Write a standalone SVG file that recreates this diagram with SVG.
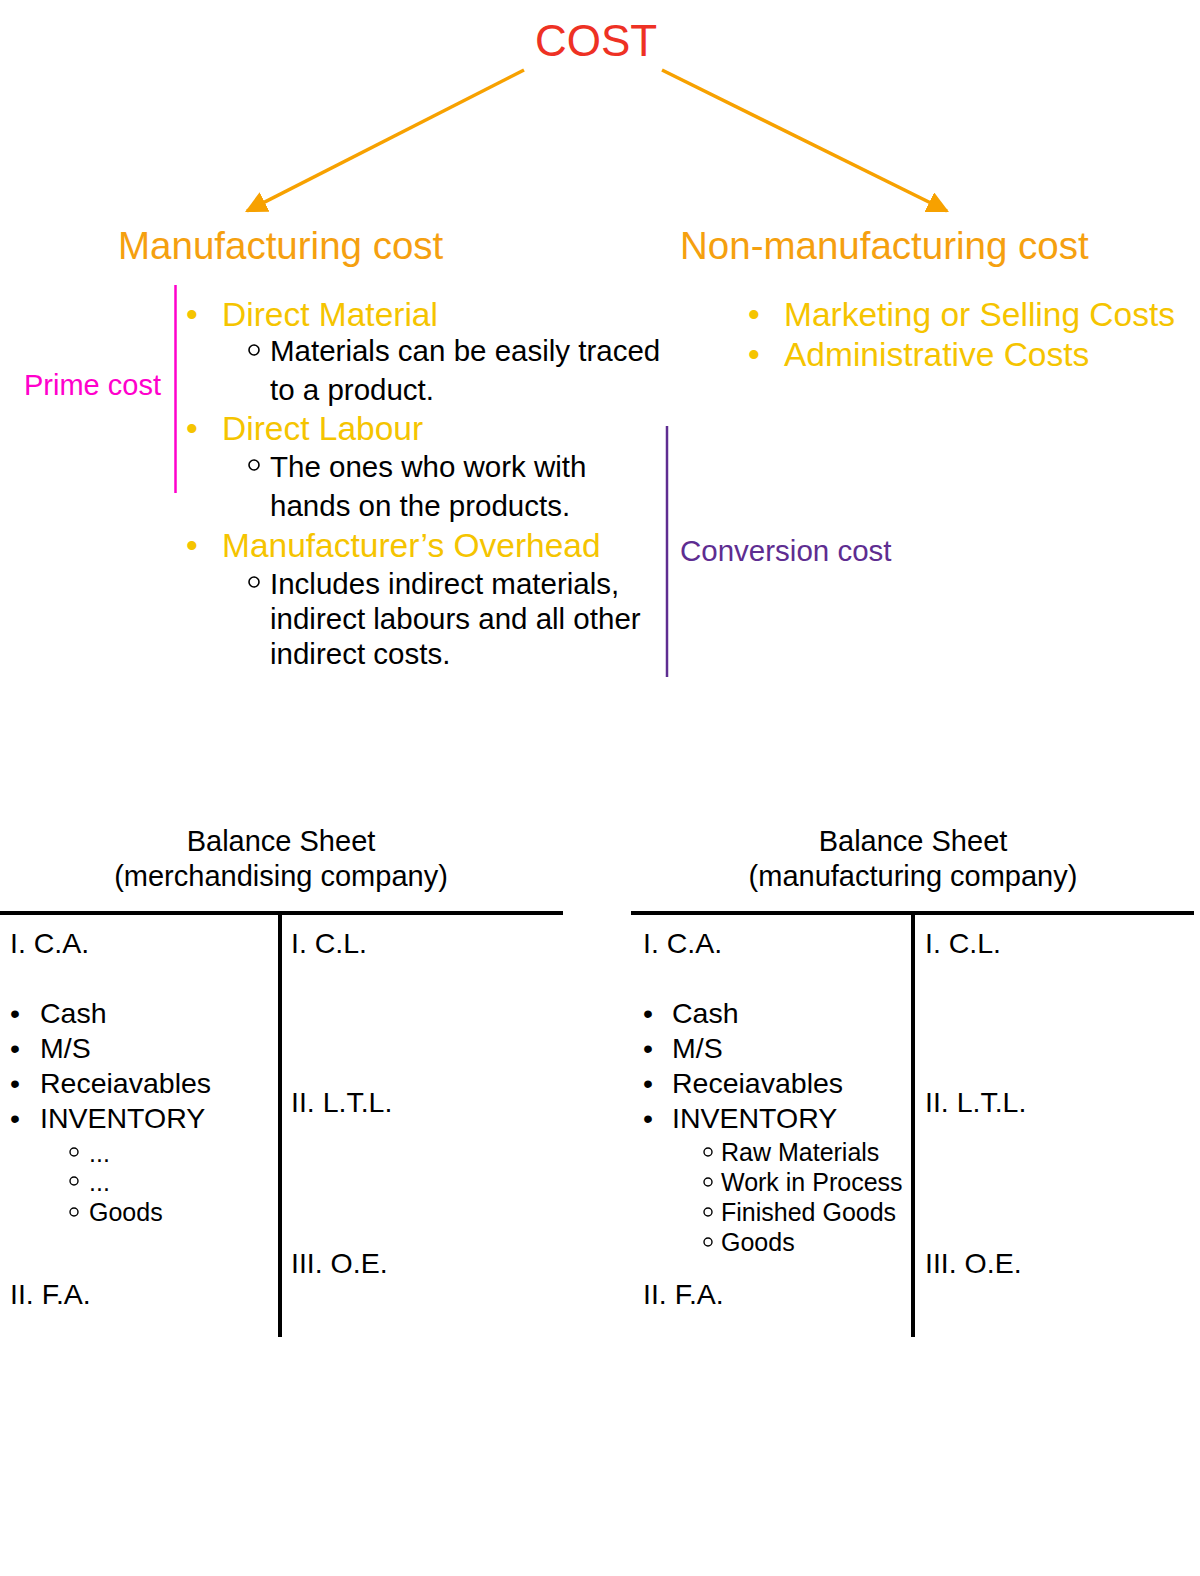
<svg xmlns="http://www.w3.org/2000/svg" width="1200" height="1576" viewBox="0 0 1200 1576">
<defs>
<marker id="ah" markerWidth="8" markerHeight="8" refX="7" refY="4" orient="auto" markerUnits="userSpaceOnUse" viewBox="0 0 8 8">
<path d="M0,0 L8,4 L0,8 Z" fill="#F7A100"/>
</marker>
<marker id="ahb" viewBox="0 0 10 10" refX="9" refY="5" markerWidth="22" markerHeight="22" markerUnits="userSpaceOnUse" orient="auto">
<path d="M0,0 L10,5 L0,10 Z" fill="#F7A100"/>
</marker>
</defs>
<style>
text{font-family:"Liberation Sans",Arial,Helvetica,sans-serif;}
.cost{fill:#EE3124;font-size:44px;}
.head{fill:#F5A00F;font-size:38.5px;}
.item{fill:#F5C400;font-size:33.5px;}
.sub{fill:#000;font-size:29.5px;}
.prime{fill:#FF00CC;font-size:29px;}
.conv{fill:#5E2D91;font-size:29.5px;}
.bs{fill:#000;font-size:29px;}
.bl{fill:#000;font-size:28.5px;}
.bsub{fill:#000;font-size:25px;}
.hc{fill:none;stroke:#000;stroke-width:1.6;}
.hc2{fill:none;stroke:#000;stroke-width:1.4;}
.rule{stroke:#000;stroke-width:4;fill:none;}
</style>
<rect width="1200" height="1576" fill="#fff"/>

<g id="cost"><text class="cost" x="596" y="56" text-anchor="middle">COST</text></g>

<g id="connectors">
<line x1="524" y1="70" x2="247" y2="211" stroke="#F7A100" stroke-width="3.5" marker-end="url(#ahb)"/>
<line x1="662" y1="70" x2="947" y2="211" stroke="#F7A100" stroke-width="3.5" marker-end="url(#ahb)"/>
</g>

<g id="manufacturing">
<text class="head" x="118" y="259">Manufacturing cost</text>
<text class="item" x="186" y="326">•</text>
<text class="item" x="222" y="326">Direct Material</text>
<circle class="hc" cx="254" cy="350" r="5"/>
<text class="sub" x="270" y="361">Materials can be easily traced</text>
<text class="sub" x="270" y="400">to a product.</text>
<text class="item" x="186" y="440">•</text>
<text class="item" x="222" y="440">Direct Labour</text>
<circle class="hc" cx="254" cy="465" r="5"/>
<text class="sub" x="270" y="477">The ones who work with</text>
<text class="sub" x="270" y="516">hands on the products.</text>
<text class="item" x="186" y="557">•</text>
<text class="item" x="222" y="557">Manufacturer’s Overhead</text>
<circle class="hc" cx="254" cy="582" r="5"/>
<text class="sub" x="270" y="594">Includes indirect materials,</text>
<text class="sub" x="270" y="629">indirect labours and all other</text>
<text class="sub" x="270" y="664">indirect costs.</text>
</g>

<g id="prime-cost">
<line x1="175.5" y1="285" x2="175.5" y2="493" stroke="#FF00CC" stroke-width="2.5"/>
<text class="prime" x="24" y="395">Prime cost</text>
</g>

<g id="conversion-cost">
<line x1="667" y1="426" x2="667" y2="677" stroke="#5E2D91" stroke-width="2.5"/>
<text class="conv" x="680" y="561">Conversion cost</text>
</g>

<g id="non-manufacturing">
<text class="head" x="680" y="259">Non-manufacturing cost</text>
<text class="item" x="748" y="326">•</text>
<text class="item" x="784" y="326">Marketing or Selling Costs</text>
<text class="item" x="748" y="366">•</text>
<text class="item" x="784" y="366">Administrative Costs</text>
</g>

<g id="balance-merch">
<text class="bs" x="281" y="851" text-anchor="middle">Balance Sheet</text>
<text class="bs" x="281" y="886" text-anchor="middle">(merchandising company)</text>
<line class="rule" x1="0" y1="913" x2="563" y2="913"/>
<line class="rule" x1="280" y1="913" x2="280" y2="1337"/>
<text class="bl" x="10" y="953">I. C.A.</text>
<text class="bl" x="10" y="1023">•</text>
<text class="bl" x="40" y="1023">Cash</text>
<text class="bl" x="10" y="1058">•</text>
<text class="bl" x="40" y="1058">M/S</text>
<text class="bl" x="10" y="1093">•</text>
<text class="bl" x="40" y="1093">Receiavables</text>
<text class="bl" x="10" y="1128">•</text>
<text class="bl" x="40" y="1128">INVENTORY</text>
<circle class="hc2" cx="74" cy="1152" r="4"/>
<text class="bsub" x="89" y="1162">...</text>
<circle class="hc2" cx="74" cy="1181" r="4"/>
<text class="bsub" x="89" y="1191">...</text>
<circle class="hc2" cx="74" cy="1212" r="4"/>
<text class="bsub" x="89" y="1221">Goods</text>
<text class="bl" x="10" y="1304">II. F.A.</text>
<text class="bl" x="291" y="953">I. C.L.</text>
<text class="bl" x="291" y="1112">II. L.T.L.</text>
<text class="bl" x="291" y="1273">III. O.E.</text>
</g>

<g id="balance-manuf">
<text class="bs" x="913" y="851" text-anchor="middle">Balance Sheet</text>
<text class="bs" x="913" y="886" text-anchor="middle">(manufacturing company)</text>
<line class="rule" x1="631" y1="913" x2="1194" y2="913"/>
<line class="rule" x1="913" y1="913" x2="913" y2="1337"/>
<text class="bl" x="643" y="953">I. C.A.</text>
<text class="bl" x="643" y="1023">•</text>
<text class="bl" x="672" y="1023">Cash</text>
<text class="bl" x="643" y="1058">•</text>
<text class="bl" x="672" y="1058">M/S</text>
<text class="bl" x="643" y="1093">•</text>
<text class="bl" x="672" y="1093">Receiavables</text>
<text class="bl" x="643" y="1128">•</text>
<text class="bl" x="672" y="1128">INVENTORY</text>
<circle class="hc2" cx="708" cy="1152" r="4"/>
<text class="bsub" x="721" y="1161">Raw Materials</text>
<circle class="hc2" cx="708" cy="1182" r="4"/>
<text class="bsub" x="721" y="1191">Work in Process</text>
<circle class="hc2" cx="708" cy="1212" r="4"/>
<text class="bsub" x="721" y="1221">Finished Goods</text>
<circle class="hc2" cx="708" cy="1242" r="4"/>
<text class="bsub" x="721" y="1251">Goods</text>
<text class="bl" x="643" y="1304">II. F.A.</text>
<text class="bl" x="925" y="953">I. C.L.</text>
<text class="bl" x="925" y="1112">II. L.T.L.</text>
<text class="bl" x="925" y="1273">III. O.E.</text>
</g>
</svg>
